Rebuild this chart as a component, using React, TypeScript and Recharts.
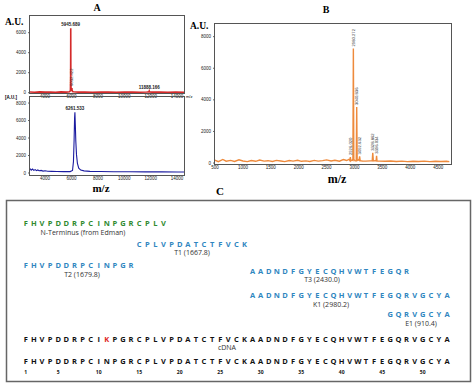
import { LineChart, Line, XAxis, YAxis, LabelList } from 'recharts';

// Panel A, top trace (red)
const topMz = [2860, 3200, 3600, 4000, 4400, 4800, 5200, 5600, 5850, 5920, 5936, 5945, 5954, 5970, 5995, 6012, 6032, 6052, 6075, 6150, 6500, 7000, 7600, 8200, 8800, 9400, 10000, 10600, 11200, 11700, 11860, 11888, 11915, 12100, 12700, 13300, 13900, 14520];
const topAU = [70, 50, 80, 60, 70, 50, 80, 60, 90, 200, 1500, 6450, 1400, 300, 200, 360, 470, 280, 120, 90, 60, 70, 50, 70, 60, 50, 70, 60, 50, 70, 90, 180, 80, 60, 70, 50, 60, 50];
const topPeakMz = [5945, 6032, 11888];
const topPeakText = ['5945.689', '6032.422', '11888.166'];

// Panel A, bottom trace (blue)
const botMz = [2860, 2950, 3050, 3150, 3250, 3350, 3450, 3550, 3700, 3850, 4000, 4200, 4500, 4900, 5400, 5900, 6080, 6150, 6200, 6235, 6261, 6290, 6330, 6380, 6450, 6550, 6700, 6950, 7400, 8200, 9200, 10400, 11600, 12800, 14000, 14520];
const botAU = [500, 320, 450, 300, 390, 270, 350, 260, 300, 220, 250, 200, 190, 170, 160, 160, 300, 1300, 3800, 6300, 6950, 5600, 3600, 2100, 1100, 550, 330, 240, 190, 170, 150, 140, 130, 130, 120, 120];
const botPeakMz = [6261];
const botPeakText = ['6261.533'];

const aTicksX = [4000, 6000, 8000, 10000, 12000, 14000];

// Panel B (orange)
const bMz = [500, 560, 640, 700, 780, 850, 930, 1000, 1080, 1150, 1230, 1300, 1380, 1450, 1530, 1600, 1680, 1750, 1830, 1900, 1980, 2050, 2130, 2200, 2280, 2350, 2430, 2500, 2580, 2650, 2730, 2800, 2860, 2900, 2918, 2926, 2934, 2955, 2972, 2980, 2988, 3010, 3032, 3040, 3048, 3070, 3082, 3092, 3102, 3140, 3200, 3280, 3318, 3328, 3338, 3370, 3388, 3396, 3404, 3450, 3550, 3650, 3750, 3850, 3950, 4050, 4150, 4250, 4350, 4450, 4550, 4650, 4700];
const bAU = [180, 90, 230, 120, 170, 100, 210, 130, 90, 160, 110, 190, 120, 150, 100, 170, 130, 90, 160, 120, 180, 110, 140, 100, 170, 120, 150, 200, 130, 180, 120, 220, 160, 230, 150, 380, 140, 180, 160, 7250, 220, 140, 150, 3550, 160, 200, 170, 420, 150, 130, 120, 140, 140, 650, 130, 150, 140, 460, 130, 120, 110, 130, 100, 120, 90, 110, 100, 120, 90, 110, 100, 110, 90];
const bPeakMz = [2926, 2980, 3040, 3092, 3328, 3396];
const bPeakText = ['2926.020', '2980.272', '3040.836', '3092.632', '3328.862', '3396.034'];
const bTicksX = [500, 1000, 1500, 2000, 2500, 3000, 3500, 4000, 4500];
const bTicksY = [0, 2000, 4000, 6000, 8000];

// Panel C
const seqEdman = 'FHVPDDRPCINPGRCPLVPDATCTFVCKAADNDFGYECQHVWTFEGQRVGCYA';
const seqCdna = 'FHVPDDRPCIKPGRCPLVPDATCTFVCKAADNDFGYECQHVWTFEGQRVGCYA';
const fragText = ['FHVPDDRPCINPGRCPLV', 'CPLVPDATCTFVCK', 'FHVPDDRPCINPGR', 'AADNDFGYECQHVWTFEGQR', 'AADNDFGYECQHVWTFEGQRVGCYA', 'GQRVGCYA'];
const fragStart = [0, 14, 0, 28, 28, 45];
const fragName = ['N-Terminus (from Edman)', 'T1 (1667.8)', 'T2 (1679.8)', 'T3 (2430.0)', 'K1 (2980.2)', 'E1 (910.4)'];
const residueNumbers = [1, 5, 10, 15, 20, 25, 30, 35, 40, 45, 50];

const buildRows = (mz: number[], au: number[], peakMz: number[], peakText: string[]) =>
  mz.map((m, i) => {
    const k = peakMz.indexOf(m);
    return { mz: m, au: au[i], tag: k >= 0 ? peakText[k] : '' };
  });

const tickFont = { fontSize: 4.5, fill: '#222', fontFamily: 'Liberation Sans, Arial, sans-serif' };

function makeTag(vertical: string[]) {
  return (props: any) => {
    const { x, y, value } = props;
    if (!value) return null;
    if (vertical.includes(value)) {
      return (
        <text x={x + 1.5} y={y - 2} transform={`rotate(-90, ${x + 1.5}, ${y - 2})`} fontSize={4.2} fill="#333" fontFamily="Liberation Sans, Arial, sans-serif">
          {value}
        </text>
      );
    }
    return (
      <text x={x} y={y - 2} textAnchor="middle" fontSize={4.5} fontWeight={700} fill="#222" fontFamily="Liberation Sans, Arial, sans-serif">
        {value}
      </text>
    );
  };
}

interface SpectrumProps {
  left: number;
  top: number;
  width: number;
  height: number;
  margin: { top: number; right: number; bottom: number; left: number };
  yWidth: number;
  data: { mz: number; au: number; tag: string }[];
  color: string;
  stroke: number;
  xDomain: number[];
  xTicks: number[];
  yDomain: number[];
  yTicks: number[];
  vertical: string[];
}

function Spectrum(p: SpectrumProps) {
  const xH = 8;
  const frame = {
    left: p.left + p.margin.left + p.yWidth,
    top: p.top + p.margin.top,
    width: p.width - p.margin.left - p.yWidth - p.margin.right,
    height: p.height - p.margin.top - p.margin.bottom - xH,
  };
  return (
    <>
      <div style={{ position: 'absolute', left: p.left, top: p.top }}>
        <LineChart width={p.width} height={p.height} data={p.data} margin={p.margin}>
          <XAxis
            type="number"
            dataKey="mz"
            domain={p.xDomain}
            ticks={p.xTicks}
            allowDataOverflow
            height={xH}
            tick={tickFont}
            tickSize={1.5}
            tickMargin={0.5}
            axisLine={false}
            interval={0}
          />
          <YAxis
            type="number"
            domain={p.yDomain}
            ticks={p.yTicks}
            allowDataOverflow
            width={p.yWidth}
            tick={tickFont}
            tickSize={2}
            tickMargin={2}
            axisLine={false}
            interval={0}
          />
          <Line type="linear" dataKey="au" stroke={p.color} strokeWidth={p.stroke} dot={false} isAnimationActive={false}>
            <LabelList dataKey="tag" content={makeTag(p.vertical)} />
          </Line>
        </LineChart>
      </div>
      <div
        style={{
          position: 'absolute',
          left: frame.left - 1,
          top: frame.top - 1,
          width: frame.width,
          height: frame.height,
          border: '1px solid #555',
          pointerEvents: 'none',
        }}
      />
    </>
  );
}

const pitch = 8.1;
const c0 = 25.8;
const cx = (i: number) => c0 + i * pitch;

function PanelC() {
  const fragY = [226, 247, 268, 274, 298, 317];
  const nameX = [83, 192, 82, 322, 331, 421];
  const nameY = [235, 255, 277, 282, 307, 326];
  const seqFont = 'Open Sans, Liberation Sans, sans-serif';
  return (
    <g fontFamily={seqFont}>
      <rect x={6.5} y={200.5} width={464} height={181} fill="none" stroke="#666" strokeWidth={1.5} />
      {fragText.map((s, f) => (
        <g key={f}>
          {s.split('').map((ch, j) => (
            <text key={j} x={cx(fragStart[f] + j)} y={fragY[f]} textAnchor="middle" fontSize={7.5} fontWeight={700} fill={f === 0 ? '#2f8a2f' : '#2f86bf'}>
              {ch}
            </text>
          ))}
          <text x={nameX[f]} y={nameY[f]} textAnchor="middle" fontSize={7} fill="#333">
            {fragName[f]}
          </text>
        </g>
      ))}
      {seqCdna.split('').map((ch, j) => (
        <text key={j} x={cx(j)} y={342} textAnchor="middle" fontSize={7.5} fontWeight={700} fill={ch !== seqEdman[j] ? '#e02424' : '#111'}>
          {ch}
        </text>
      ))}
      <text x={227} y={350} textAnchor="middle" fontSize={7} fill="#333">cDNA</text>
      {seqEdman.split('').map((ch, j) => (
        <text key={j} x={cx(j)} y={363.5} textAnchor="middle" fontSize={7.5} fontWeight={700} fill="#111">
          {ch}
        </text>
      ))}
      {residueNumbers.map((n) => (
        <text key={n} x={cx(n - 1)} y={374} textAnchor="middle" fontSize={5} fontWeight={700} fill="#111">
          {n}
        </text>
      ))}
    </g>
  );
}

export default function App() {
  const serif = 'Liberation Serif, Times New Roman, serif';
  return (
    <div style={{ position: 'absolute', left: 0, top: 0, width: 474, height: 388, background: '#fff', overflow: 'hidden' }}>
      <svg width={474} height={388} style={{ position: 'absolute', left: 0, top: 0 }}>
        <text x={97} y={11} textAnchor="middle" fontFamily={serif} fontWeight={700} fontSize={10}>A</text>
        <text x={326} y={13} textAnchor="middle" fontFamily={serif} fontWeight={700} fontSize={10}>B</text>
        <text x={220} y={195} textAnchor="middle" fontFamily={serif} fontWeight={700} fontSize={11}>C</text>
        <text x={5} y={25} fontFamily={serif} fontWeight={700} fontSize={9.5}>A.U.</text>
        <text x={190} y={29} fontFamily={serif} fontWeight={700} fontSize={9.5}>A.U.</text>
        <text x={5} y={99} fontFamily="Liberation Sans, sans-serif" fontWeight={700} fontSize={4.5}>[A.U.]</text>
        <text x={186} y={98} fontFamily="Liberation Sans, sans-serif" fontSize={4}>m/z</text>
        <text x={101} y={191.5} textAnchor="middle" fontFamily={serif} fontWeight={700} fontSize={11}>m/z</text>
        <text x={337} y={183} textAnchor="middle" fontFamily={serif} fontWeight={700} fontSize={12}>m/z</text>
        <PanelC />
      </svg>
      <Spectrum
        left={0}
        top={0}
        width={200}
        height={110}
        margin={{ top: 16, right: 16, bottom: 9, left: 6 }}
        yWidth={24}
        data={buildRows(topMz, topAU, topPeakMz, topPeakText)}
        color="#d42a2a"
        stroke={1.6}
        xDomain={[2860, 14520]}
        xTicks={aTicksX}
        yDomain={[-30, 7670]}
        yTicks={[0, 2000, 4000, 6000]}
        vertical={['6032.422']}
      />
      <Spectrum
        left={0}
        top={90}
        width={200}
        height={100}
        margin={{ top: 7, right: 16, bottom: 7, left: 6 }}
        yWidth={24}
        data={buildRows(botMz, botAU, botPeakMz, botPeakText)}
        color="#1c1ca0"
        stroke={1.1}
        xDomain={[2860, 14520]}
        xTicks={aTicksX}
        yDomain={[-230, 8690]}
        yTicks={[0, 2000, 4000, 6000, 8000]}
        vertical={[]}
      />
      <Spectrum
        left={190}
        top={0}
        width={270}
        height={175}
        margin={{ top: 24, right: 9, bottom: 3, left: 3 }}
        yWidth={22}
        data={buildRows(bMz, bAU, bPeakMz, bPeakText)}
        color="#ee8a3c"
        stroke={1.4}
        xDomain={[500, 4730]}
        xTicks={bTicksX}
        yDomain={[-60, 8800]}
        yTicks={bTicksY}
        vertical={bPeakText}
      />
    </div>
  );
}
